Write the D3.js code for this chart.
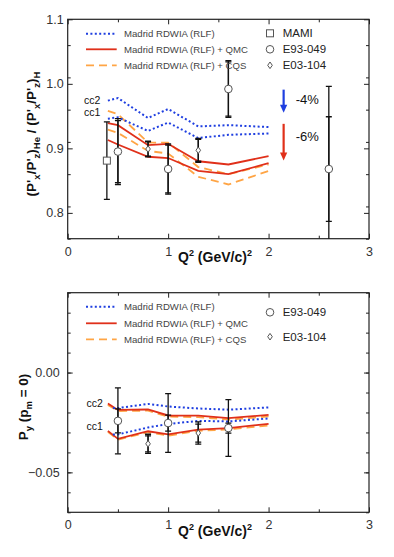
<!DOCTYPE html>
<html>
<head>
<meta charset="utf-8">
<script src="https://cdn.jsdelivr.net/npm/d3@7"></script>
<style>
body { margin: 0; background: #fff; }
svg { font-family: "Liberation Sans", Arial, sans-serif; }
</style>
</head>
<body>
<script>
//theory grid in Q^2
var q2 = [0.4, 0.5, 0.8, 1.0, 1.3, 1.6, 2.0];

//top panel: (P'x/P'z)He / (P'x/P'z)H
var ratioRlfCc2 = [0.974, 0.978, 0.947, 0.961, 0.934, 0.936, 0.933];
var ratioRlfCc1 = [0.946, 0.948, 0.927, 0.940, 0.916, 0.921, 0.923];
var ratioQmcCc2 = [0.939, 0.936, 0.905, 0.907, 0.880, 0.875, 0.888];
var ratioQmcCc1 = [0.913, 0.906, 0.887, 0.885, 0.865, 0.860, 0.877];
var ratioCqsCc2 = [0.958, 0.953, 0.909, 0.909, 0.871, 0.860, 0.875];
var ratioCqsCc1 = [0.929, 0.924, 0.896, 0.892, 0.856, 0.844, 0.865];

var mamiQ2 = [0.39], mamiVal = [0.881], mamiErr = [0.060];
var e93Q2 = [0.5, 1.0, 1.6, 2.6];
var e93Val = [0.895, 0.868, 0.992, 0.868];
var e93Stat = [0.048, 0.037, 0.042, 0.081];
var e93Tot = [0.051, 0.039, 0.044, 0.128];
var e03Q2 = [0.8, 1.3];
var e03Val = [0.899, 0.897];
var e03Stat = [0.011, 0.017];
var e03Tot = [0.012, 0.0185];

//bottom panel: induced polarization Py
var pyQ2Rlf = [0.45, 0.5, 0.8, 1.0, 1.3, 1.6, 2.0];
var pyRlfCc2 = [-0.0178, -0.0178, -0.0157, -0.0170, -0.0180, -0.0186, -0.0175];
var pyRlfCc1 = [-0.0310, -0.0310, -0.0275, -0.0258, -0.0242, -0.0245, -0.0230];
var pyQmcCc2 = [-0.0155, -0.0187, -0.0185, -0.0215, -0.0216, -0.0228, -0.0212];
var pyQmcCc1 = [-0.0292, -0.0332, -0.0294, -0.0310, -0.0286, -0.0278, -0.0257];
var pyCqsCc2 = [-0.0162, -0.0193, -0.0191, -0.0221, -0.0223, -0.0236, -0.0220];
var pyCqsCc1 = [-0.0297, -0.0336, -0.0299, -0.0316, -0.0292, -0.0285, -0.0265];

var pyE93Q2 = [0.5, 1.0, 1.6];
var pyE93Val = [-0.0242, -0.0253, -0.0278];
var pyE93Stat = [0.006, 0.004, 0.0025];
var pyE93Tot = [0.0165, 0.0147, 0.0142];
var pyE03Q2 = [0.8, 1.3];
var pyE03Val = [-0.0357, -0.0303];
var pyE03Stat = [0.0040, 0.0045];
var pyE03Tot = [0.0048, 0.0056];

//tick labels
var topYTicks = [0.8, 0.9, 1.0, 1.1];
var botYTicks = [-0.05, 0.00];
var xTicks = [0, 1, 2, 3];

var modelNames = ["Madrid RDWIA (RLF)", "Madrid RDWIA (RLF) + QMC", "Madrid RDWIA (RLF) + CQS"];

//styles
var blue = "#1f3fe0", red = "#e0301a", orange = "#ffa545";
var styles = [
    {color: blue, dash: "2,2.4", width: 2},
    {color: red, dash: null, width: 1.8},
    {color: orange, dash: "8,5", width: 1.8}
];

var width = 394, height = 557;
var svg = d3.select("body").append("svg")
    .attr("width", width)
    .attr("height", height);

var x0 = 67.7, x1 = 369;

function drawPanel(opt){
    var x = d3.scaleLinear().domain([0, 3]).range([x0, x1]);
    var y = d3.scaleLinear().domain(opt.yDomain).range([opt.bottom, opt.top]);
    var g = svg.append("g");

    var clipId = "clip" + opt.id;
    svg.append("clipPath").attr("id", clipId)
        .append("rect")
        .attr("x", x0).attr("y", opt.top)
        .attr("width", x1 - x0).attr("height", opt.bottom - opt.top);

    //axes with inward ticks
    var yMinor = d3.range(opt.yDomain[0], opt.yDomain[1] + 1e-9, opt.yMinorStep);
    g.append("g").attr("transform", "translate(" + x0 + ",0)")
        .call(d3.axisRight(y).tickValues(yMinor).tickSize(3).tickFormat(""));
    g.append("g").attr("transform", "translate(" + x0 + ",0)")
        .call(d3.axisLeft(y).tickValues(opt.yTicks).tickSizeInner(-5).tickSizeOuter(0)
            .tickPadding(opt.yPad).tickFormat(opt.yFormat));
    g.append("g").attr("transform", "translate(" + x1 + ",0)")
        .call(d3.axisLeft(y).tickValues(yMinor).tickSize(3).tickFormat(""));
    g.append("g").attr("transform", "translate(" + x1 + ",0)")
        .call(d3.axisLeft(y).tickValues(opt.yTicks).tickSize(5).tickFormat(""));

    g.append("g").attr("transform", "translate(0," + opt.bottom + ")")
        .call(d3.axisTop(x).tickValues([0.5, 1.5, 2.5]).tickSize(3).tickFormat(""));
    g.append("g").attr("transform", "translate(0," + opt.bottom + ")")
        .call(d3.axisBottom(x).tickValues(xTicks).tickSizeInner(-5).tickSizeOuter(0)
            .tickPadding(8).tickFormat(d3.format("d")));
    g.append("g").attr("transform", "translate(0," + opt.top + ")")
        .call(d3.axisBottom(x).tickValues([0.5, 1.5, 2.5]).tickSize(3).tickFormat(""));
    g.append("g").attr("transform", "translate(0," + opt.top + ")")
        .call(d3.axisBottom(x).tickValues(xTicks).tickSize(5).tickFormat(""));

    g.selectAll(".domain").remove();
    g.selectAll(".tick line").attr("stroke", "#222").attr("stroke-width", 1);
    g.selectAll(".tick text").attr("font-size", 12.5).attr("fill", "#333")
        .attr("font-family", "Liberation Sans, Arial, sans-serif");

    g.append("rect")
        .attr("x", x0).attr("y", opt.top)
        .attr("width", x1 - x0).attr("height", opt.bottom - opt.top)
        .attr("fill", "none").attr("stroke", "#222").attr("stroke-width", 1.2);

    //theory curves
    var line = d3.line().x(function(d){ return x(d[0]); }).y(function(d){ return y(d[1]); });
    var curves = g.append("g");
    opt.curves.forEach(function(c){
        var s = styles[c.style];
        curves.append("path")
            .datum(d3.zip(c.q, c.v))
            .attr("d", line)
            .attr("fill", "none")
            .attr("stroke", s.color)
            .attr("stroke-width", s.width)
            .attr("stroke-dasharray", s.dash);
    });

    //error bars and markers
    var pts = g.append("g").attr("clip-path", "url(#" + clipId + ")");
    function errBars(q, v, errs){
        errs.forEach(function(e){
            q.forEach(function(qq, i){
                var lo = v[i] - e[i], hi = v[i] + e[i];
                pts.append("line")
                    .attr("x1", x(qq)).attr("x2", x(qq))
                    .attr("y1", y(lo)).attr("y2", y(hi))
                    .attr("stroke", "#111").attr("stroke-width", 1.3);
                [lo, hi].forEach(function(b){
                    if (b < opt.yDomain[0] || b > opt.yDomain[1]) return;
                    pts.append("line")
                        .attr("x1", x(qq) - 3).attr("x2", x(qq) + 3)
                        .attr("y1", y(b)).attr("y2", y(b))
                        .attr("stroke", "#111").attr("stroke-width", 1.3);
                });
            });
        });
    }
    opt.points.forEach(function(p){
        errBars(p.q, p.v, p.errs);
        p.q.forEach(function(qq, i){
            drawMarker(pts, p.marker, x(qq), y(p.v[i]));
        });
    });

    //legend
    var lg = g.append("g");
    modelNames.forEach(function(name, i){
        var s = styles[i], ly = opt.legendY[i];
        lg.append("line")
            .attr("x1", 86).attr("x2", 116.7).attr("y1", ly).attr("y2", ly)
            .attr("stroke", s.color).attr("stroke-width", s.width)
            .attr("stroke-dasharray", s.dash);
        lg.append("text")
            .attr("x", 124).attr("y", ly + 3.4)
            .attr("font-size", 9.6).attr("fill", "#444")
            .text(name);
    });
    opt.symbolLegend.forEach(function(d){
        drawMarker(lg, d.marker, 270, d.y);
        lg.append("text")
            .attr("x", 282.7).attr("y", d.y + 4)
            .attr("font-size", 11.5).attr("fill", "#222")
            .text(d.name);
    });

    //cc labels
    opt.ccLabels.forEach(function(d){
        g.append("text")
            .attr("x", d.x).attr("y", d.y)
            .attr("font-size", 10.5).attr("fill", "#111")
            .text(d.text);
    });

    //x title
    var xt = g.append("text")
        .attr("x", 215).attr("y", opt.bottom + 23.5)
        .attr("text-anchor", "middle")
        .attr("font-size", 14).attr("font-weight", "bold").attr("fill", "#111");
    xt.append("tspan").text("Q");
    xt.append("tspan").attr("font-size", 9).attr("dy", -6).text("2");
    xt.append("tspan").attr("dy", 6).text(" (GeV/c)");
    xt.append("tspan").attr("font-size", 9).attr("dy", -6).text("2");

    return {x: x, y: y, g: g};
}

function drawMarker(sel, type, cx, cy){
    if (type === "square"){
        sel.append("rect")
            .attr("x", cx - 3.5).attr("y", cy - 3.5)
            .attr("width", 7).attr("height", 7)
            .attr("fill", "#fff").attr("stroke", "#555").attr("stroke-width", 1);
    } else if (type === "circle"){
        sel.append("circle")
            .attr("cx", cx).attr("cy", cy).attr("r", 3.8)
            .attr("fill", "#fff").attr("stroke", "#555").attr("stroke-width", 1);
    } else {
        sel.append("path")
            .attr("d", "M" + cx + "," + (cy - 3.3) + "L" + (cx + 2.3) + "," + cy +
                "L" + cx + "," + (cy + 3.3) + "L" + (cx - 2.3) + "," + cy + "Z")
            .attr("fill", "#fff").attr("stroke", "#555").attr("stroke-width", 1);
    }
}

//rotated y title with subscripts
function yTitle(cx, cy, parts){
    var t = svg.append("text")
        .attr("transform", "translate(" + cx + "," + cy + ") rotate(-90)")
        .attr("text-anchor", "middle")
        .attr("font-size", 13.5).attr("font-weight", "bold").attr("fill", "#111");
    var shift = 0;
    parts.forEach(function(p){
        var dy = (p.sub ? 4 : 0) - shift;
        shift = p.sub ? 4 : 0;
        t.append("tspan")
            .attr("dy", dy)
            .attr("font-size", p.sub ? 9.5 : 13.5)
            .text(p.t);
    });
}

//top panel
var topPanel = drawPanel({
    id: "top",
    top: 19.3, bottom: 238.7,
    yDomain: [0.76, 1.1], yTicks: topYTicks, yMinorStep: 0.05,
    yFormat: d3.format(".1f"), yPad: 4,
    curves: [
        {q: q2, v: ratioCqsCc2, style: 2},
        {q: q2, v: ratioCqsCc1, style: 2},
        {q: q2, v: ratioQmcCc2, style: 1},
        {q: q2, v: ratioQmcCc1, style: 1},
        {q: q2, v: ratioRlfCc2, style: 0},
        {q: q2, v: ratioRlfCc1, style: 0}
    ],
    points: [
        {q: mamiQ2, v: mamiVal, errs: [mamiErr], marker: "square"},
        {q: e93Q2, v: e93Val, errs: [e93Stat, e93Tot], marker: "circle"},
        {q: e03Q2, v: e03Val, errs: [e03Stat, e03Tot], marker: "diamond"}
    ],
    legendY: [33.7, 49.3, 65.3],
    symbolLegend: [
        {marker: "square", name: "MAMI", y: 33.3},
        {marker: "circle", name: "E93-049", y: 49.3},
        {marker: "diamond", name: "E03-104", y: 65.3}
    ],
    ccLabels: [
        {text: "cc2", x: 84, y: 104},
        {text: "cc1", x: 84, y: 115.5}
    ]
});

//arrows showing the shift of the models
var arrowQ2 = 2.15;
var arrows = [
    {from: 0.991, to: 0.955, color: blue, label: "-4%", labelY: 0.975},
    {from: 0.938, to: 0.881, color: red, label: "-6%", labelY: 0.918}
];
arrows.forEach(function(a){
    var ax = topPanel.x(arrowQ2), y0 = topPanel.y(a.from), y1 = topPanel.y(a.to);
    topPanel.g.append("line")
        .attr("x1", ax).attr("x2", ax).attr("y1", y0).attr("y2", y1 - 7)
        .attr("stroke", a.color).attr("stroke-width", 2.2);
    topPanel.g.append("path")
        .attr("d", "M" + (ax - 3.6) + "," + (y1 - 8) + "L" + (ax + 3.6) + "," + (y1 - 8) +
            "L" + ax + "," + y1 + "Z")
        .attr("fill", a.color);
    topPanel.g.append("text")
        .attr("x", topPanel.x(2.27)).attr("y", topPanel.y(a.labelY) + 4.5)
        .attr("font-size", 13).attr("fill", "#111")
        .text(a.label);
});

yTitle(36, 134, [
    {t: "(P'"}, {t: "x", sub: true}, {t: "/P'"}, {t: "z", sub: true}, {t: ")"},
    {t: "He", sub: true}, {t: " / (P'"}, {t: "x", sub: true}, {t: "/P'"},
    {t: "z", sub: true}, {t: ")"}, {t: "H", sub: true}
]);

//bottom panel
drawPanel({
    id: "bot",
    top: 292.7, bottom: 512.3,
    yDomain: [-0.07, 0.04], yTicks: botYTicks, yMinorStep: 0.01,
    yFormat: d3.format(".2f"), yPad: 8,
    curves: [
        {q: q2, v: pyCqsCc2, style: 2},
        {q: q2, v: pyCqsCc1, style: 2},
        {q: q2, v: pyQmcCc2, style: 1},
        {q: q2, v: pyQmcCc1, style: 1},
        {q: pyQ2Rlf, v: pyRlfCc2, style: 0},
        {q: pyQ2Rlf, v: pyRlfCc1, style: 0}
    ],
    points: [
        {q: pyE93Q2, v: pyE93Val, errs: [pyE93Stat, pyE93Tot], marker: "circle"},
        {q: pyE03Q2, v: pyE03Val, errs: [pyE03Stat, pyE03Tot], marker: "diamond"}
    ],
    legendY: [306.7, 323.3, 339.3],
    symbolLegend: [
        {marker: "circle", name: "E93-049", y: 312.3},
        {marker: "diamond", name: "E03-104", y: 336.7}
    ],
    ccLabels: [
        {text: "cc2", x: 86.5, y: 406.5},
        {text: "cc1", x: 86.5, y: 429.5}
    ]
});

yTitle(28, 407, [
    {t: "P"}, {t: "y", sub: true}, {t: " (p"}, {t: "m", sub: true}, {t: " = 0)"}
]);
</script>
</body>
</html>
